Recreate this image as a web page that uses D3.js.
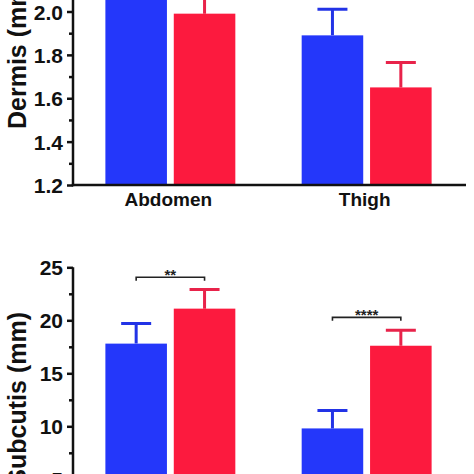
<!DOCTYPE html>
<html>
<head>
<meta charset="utf-8">
<script src="https://cdn.jsdelivr.net/npm/d3@7"></script>
<style>
  body { margin: 0; background: #fff; }
  svg { display: block; font-family: "Liberation Sans", Arial, sans-serif; }
  .axis text { font-weight: bold; font-size: 21px; fill: #111; }
  .axis line, .axis path { stroke: #111; stroke-width: 2.5; }
</style>
</head>
<body>
<div class="graph"></div>
<script>
const w = 474;
const h = 474;

const groups = ["Abdomen", "Thigh"];
const series = ["Series 1", "Series 2"];
const colors = ["#2437fa", "#fc1a3e"];
const errColors = ["#2233e6", "#e8234a"];

// mean and error (upper) per group, in series order
const dermisMean = [[2.12, 1.99], [1.89, 1.65]];
const dermisErr = [[0.13, 0.14], [0.12, 0.115]];
const dermisTicks = [1.2, 1.4, 1.6, 1.8, 2.0];

const subcutisMean = [[17.8, 21.1], [9.8, 17.6]];
const subcutisErr = [[1.9, 1.8], [1.7, 1.45]];
const subcutisTicks = [5, 10, 15, 20, 25];

const sigGroups = ["Abdomen", "Thigh"];
const sigLabels = ["**", "****"];
const sigLevels = [24.06, 20.28];

const axisX = 73;

const canvas = d3.select(".graph")
  .append("svg")
  .attr("width", w)
  .attr("height", h);

const x0 = d3.scaleBand()
  .domain(groups)
  .range([axisX, 464])
  .paddingInner(0.338)
  .paddingOuter(0.165);

const x1 = d3.scaleBand()
  .domain(series)
  .range([0, x0.bandwidth()])
  .paddingInner(0.1);

function drawPanel(opts) {
  const y = d3.scaleLinear().domain(opts.domain).range(opts.range);
  const g = canvas.append("g");

  // bars
  const rows = [];
  groups.forEach((grp, gi) => {
    series.forEach((s, si) => {
      rows.push({grp, s, si, mean: opts.mean[gi][si], err: opts.err[gi][si]});
    });
  });

  const cx = d => x0(d.grp) + x1(d.s) + x1.bandwidth() / 2;

  // error bars (drawn first so bar covers the lower half)
  g.selectAll(".err")
    .data(rows)
    .enter().append("path")
    .attr("class", "err")
    .attr("fill", "none")
    .attr("stroke", d => errColors[d.si])
    .attr("stroke-width", 3)
    .attr("d", d => {
      const yTop = y(d.mean + d.err);
      return `M${cx(d)},${y(d.mean)}V${yTop}M${cx(d) - 15},${yTop}H${cx(d) + 15}`;
    });

  g.selectAll(".bar")
    .data(rows)
    .enter().append("rect")
    .attr("class", "bar")
    .attr("x", d => x0(d.grp) + x1(d.s))
    .attr("width", x1.bandwidth())
    .attr("y", d => y(d.mean))
    .attr("height", d => y(opts.domain[0]) - y(d.mean))
    .attr("fill", d => colors[d.si]);

  // minor ticks
  const minor = [];
  for (let i = 0; i < opts.ticks.length; i++) {
    const t = opts.ticks[i] - opts.step / 2;
    if (t >= opts.domain[0] - 1e-9) minor.push(t);
  }
  g.append("g")
    .attr("class", "axis")
    .attr("transform", `translate(${axisX},0)`)
    .call(d3.axisLeft(y).tickValues(minor).tickSize(4).tickSizeOuter(0).tickFormat(""))
    .call(a => a.select(".domain").remove());

  const ax = g.append("g")
    .attr("class", "axis")
    .attr("transform", `translate(${axisX},0)`)
    .call(d3.axisLeft(y).tickValues(opts.ticks).tickSize(6).tickSizeOuter(0)
      .tickFormat(opts.format).tickPadding(4));
  ax.select(".domain").remove();
  ax.selectAll("text").attr("dy", "0.36em");

  // axis line
  g.append("line")
    .attr("x1", axisX).attr("x2", axisX)
    .attr("y1", y(opts.domain[0]) + 1.25)
    .attr("y2", opts.axisTop(y))
    .attr("stroke", "#111").attr("stroke-width", 2.5);

  g.append("text")
    .attr("transform", `translate(26,${opts.labelY}) rotate(-90)`)
    .attr("text-anchor", opts.labelAnchor)
    .attr("font-size", 25)
    .attr("font-weight", "bold")
    .attr("fill", "#111")
    .text(opts.label);

  return {g, y};
}

// Dermis panel
const dermis = drawPanel({
  domain: [1.2, 2.0], range: [185, 11.5],
  mean: dermisMean, err: dermisErr, ticks: dermisTicks, step: 0.2,
  format: d3.format(".1f"),
  axisTop: () => -10,
  label: "Dermis (mm)", labelY: 129, labelAnchor: "start"
});

dermis.g.append("line")
  .attr("x1", axisX - 1.25).attr("x2", 466)
  .attr("y1", 185).attr("y2", 185)
  .attr("stroke", "#111").attr("stroke-width", 2.5);

dermis.g.selectAll(".xlab")
  .data(groups)
  .enter().append("text")
  .attr("x", d => x0(d) + x0.bandwidth() / 2 - 2)
  .attr("y", 206)
  .attr("text-anchor", "middle")
  .attr("font-size", 19)
  .attr("font-weight", "bold")
  .attr("fill", "#111")
  .text(d => d);

// Subcutis panel
const subcutis = drawPanel({
  domain: [0, 25], range: [532.3, 267.3],
  mean: subcutisMean, err: subcutisErr, ticks: subcutisTicks, step: 5,
  format: d3.format("d"),
  axisTop: y => y(25),
  label: "Subcutis (mm)", labelY: 312, labelAnchor: "end"
});

// significance brackets
const sig = subcutis.g.selectAll(".sig")
  .data(sigGroups.map((grp, i) => ({grp, label: sigLabels[i], level: sigLevels[i]})))
  .enter().append("g")
  .attr("class", "sig");

sig.append("path")
  .attr("fill", "none")
  .attr("stroke", "#222")
  .attr("stroke-width", 1.6)
  .attr("d", d => {
    const a = x0(d.grp) + x1(series[0]) + x1.bandwidth() / 2;
    const b = x0(d.grp) + x1(series[1]) + x1.bandwidth() / 2;
    const yy = subcutis.y(d.level);
    return `M${a},${yy + 3.5}V${yy}H${b}V${yy + 3.5}`;
  });

sig.append("text")
  .attr("x", d => x0(d.grp) + x0.bandwidth() / 2)
  .attr("y", d => subcutis.y(d.level) + 3)
  .attr("text-anchor", "middle")
  .attr("font-size", 15)
  .attr("font-weight", "bold")
  .attr("fill", "#222")
  .text(d => d.label);
</script>
</body>
</html>
